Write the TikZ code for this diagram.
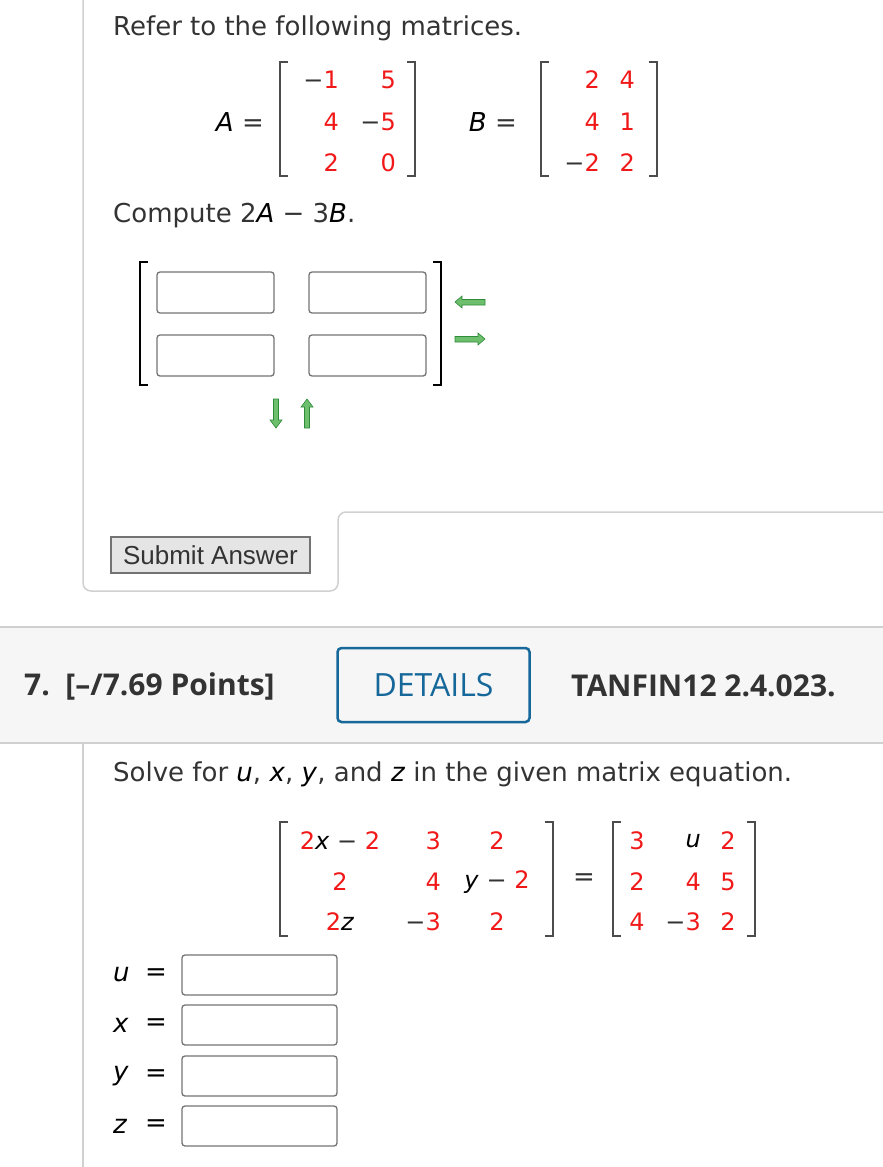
\documentclass[tikz,border=0pt]{standalone}
\usepackage{fontspec}
\setmainfont{DejaVu Sans}
\newfontfamily\osans{Open Sans}
\newfontfamily\lsans{Liberation Sans}
\definecolor{rd}{HTML}{F01818}
\definecolor{tx}{HTML}{333333}
\definecolor{ln}{HTML}{D0D0D0}
\definecolor{bl}{HTML}{16679A}
\definecolor{gr}{HTML}{6DBE6D}
\definecolor{dg}{HTML}{2E8B3A}
\newcommand{\R}[1]{\textcolor{rd}{#1}}
\newcommand{\mn}{\textcolor{tx}{−}}
\newcommand{\V}[1]{\textcolor{black}{\textit{#1}}}
\begin{document}
\begin{tikzpicture}[x=1pt,y=-1pt,
  txt/.style={anchor=west,inner sep=0,text=tx,font=\fontsize{26}{30}\selectfont},
  ent/.style={inner sep=0,font=\fontsize{24}{27}\selectfont,text=rd},
  ansbox/.style={draw=black!55,line width=1.3pt,rounded corners=3pt},
  brk/.style={draw=black!70,line width=1.6pt},
  abrk/.style={draw=black,line width=1.8pt},
  garrow/.style={fill=gr,draw=dg,line width=0.6pt}]
\useasboundingbox (0,0) rectangle (883,1167);
% frame lines
\draw[ln,line width=1.5pt,rounded corners=8pt] (83,0) -- (83,591) -- (338,591) -- (338,512) -- (883,512);
\fill[black!3.5] (0,627) rectangle (883,743);
\draw[ln,line width=1.5pt] (0,627) -- (883,627) (0,743) -- (883,743);
\draw[ln,line width=1.5pt] (83,744) -- (83,1167);
% top text
\node[txt] (t1) at (113,28) {Refer to the following matrices.};
\node[txt,anchor=east] (aeq) at (264,122) {\V{A} =};
\draw[brk] (288,62) -- (280,62) -- (280,176) -- (288,176);
\draw[brk] (407,62) -- (415,62) -- (415,176) -- (407,176);
\node[ent,anchor=east] (a11) at (339,80) {\mn\R{1}};
\node[ent,anchor=east] (a12) at (396,80) {5};
\node[ent,anchor=east] (a21) at (339,122) {4};
\node[ent,anchor=east] (a22) at (396,122) {\mn\R{5}};
\node[ent,anchor=east] (a31) at (339,163) {2};
\node[ent,anchor=east] (a32) at (396,163) {0};
\node[txt,anchor=east] (beq) at (517,122) {\V{B} =};
\draw[brk] (549,62) -- (541,62) -- (541,176) -- (549,176);
\draw[brk] (649,62) -- (657,62) -- (657,176) -- (649,176);
\node[ent,anchor=east] (b11) at (600,80) {2};
\node[ent,anchor=east] (b12) at (635,80) {4};
\node[ent,anchor=east] (b21) at (600,122) {4};
\node[ent,anchor=east] (b22) at (635,122) {1};
\node[ent,anchor=east] (b31) at (600,163) {\mn\R{2}};
\node[ent,anchor=east] (b32) at (635,163) {2};
\node[txt] (t2) at (113,216) {Compute 2\V{A} − 3\V{B}.};
% answer matrix
\draw[abrk] (148,262) -- (140,262) -- (140,385) -- (148,385);
\draw[abrk] (433,262) -- (441,262) -- (441,385) -- (433,385);
\draw[ansbox] (157,272) rectangle (274,313);
\draw[ansbox] (309,272) rectangle (426,313);
\draw[ansbox] (157,335) rectangle (274,376);
\draw[ansbox] (309,335) rectangle (426,376);
% green arrows
\draw[garrow] (455,302) -- (462,296) -- (462,299.5) -- (485,299.5) -- (485,305) -- (462,305) -- (462,308) -- cycle;
\draw[garrow] (485,339) -- (478,333) -- (478,336.5) -- (455,336.5) -- (455,342) -- (478,342) -- (478,345) -- cycle;
\draw[garrow] (276,428) -- (270,420) -- (273.5,420) -- (273.5,399) -- (278.5,399) -- (278.5,420) -- (282,420) -- cycle;
\draw[garrow] (307,399) -- (301,407) -- (304.5,407) -- (304.5,428) -- (309.5,428) -- (309.5,407) -- (313,407) -- cycle;
% submit
\node[draw=black!55,line width=1.3pt,fill=black!10,minimum width=199pt,minimum height=36pt,inner sep=0,text=tx,font=\lsans\fontsize{26}{28}\selectfont] (sub) at (210.5,555) {Submit Answer};
% header
\node[txt,anchor=west,font=\osans\bfseries\fontsize{30}{34}\selectfont,text=tx] (q7) at (24,686) {7.\ \ [–/7.69 Points]};
\node[draw=bl,line width=2.5pt,rounded corners=4pt,minimum width=192pt,minimum height=74pt,inner sep=0,text=bl,font=\osans\fontsize{32}{34}\selectfont] (det) at (433.5,685) {DETAILS};
\node[txt,anchor=west,font=\osans\bfseries\fontsize{30}{34}\selectfont,text=tx] (code) at (571,686) {TANFIN12 2.4.023.};
% question
\node[txt] (t3) at (113,774) {Solve for \V{u}, \V{x}, \V{y}, and \V{z} in the given matrix equation.};
\draw[brk] (288,822) -- (280,822) -- (280,936) -- (288,936);
\draw[brk] (545,822) -- (553,822) -- (553,936) -- (545,936);
\node[ent] (m11) at (340,841) {2\V{x} \mn{} 2};
\node[ent,anchor=east] (m12) at (441,841) {3};
\node[ent] (m13) at (497,841) {2};
\node[ent] (m21) at (340,882) {2};
\node[ent,anchor=east] (m22) at (441,882) {4};
\node[ent] (m23) at (497,882) {\V{y} \mn{} 2};
\node[ent] (m31) at (340,922) {2\V{z}};
\node[ent,anchor=east] (m32) at (441,922) {\mn\R{3}};
\node[ent] (m33) at (497,922) {2};
\node[txt,anchor=center] (eq) at (584,880) {=};
\draw[brk] (621,822) -- (613,822) -- (613,936) -- (621,936);
\draw[brk] (747,822) -- (755,822) -- (755,936) -- (747,936);
\node[ent] (n11) at (637,841) {3};
\node[ent,anchor=east] (n12) at (701,841) {\V{u}};
\node[ent] (n13) at (728,841) {2};
\node[ent] (n21) at (637,882) {2};
\node[ent,anchor=east] (n22) at (701,882) {4};
\node[ent] (n23) at (728,882) {5};
\node[ent] (n31) at (637,922) {4};
\node[ent,anchor=east] (n32) at (701,922) {\mn\R{3}};
\node[ent] (n33) at (728,922) {2};
% variables
\foreach \v/\y in {u/975,x/1025,y/1076,z/1126}{
  \node[txt,text=black] (l\v) at (113,\y) {\textit{\v}};
  \node[txt,text=black,anchor=center] (e\v) at (156,\y) {=};
  \draw[ansbox] (182,\y-20) rectangle (337,\y+20);
}
\end{tikzpicture}
\end{document}
